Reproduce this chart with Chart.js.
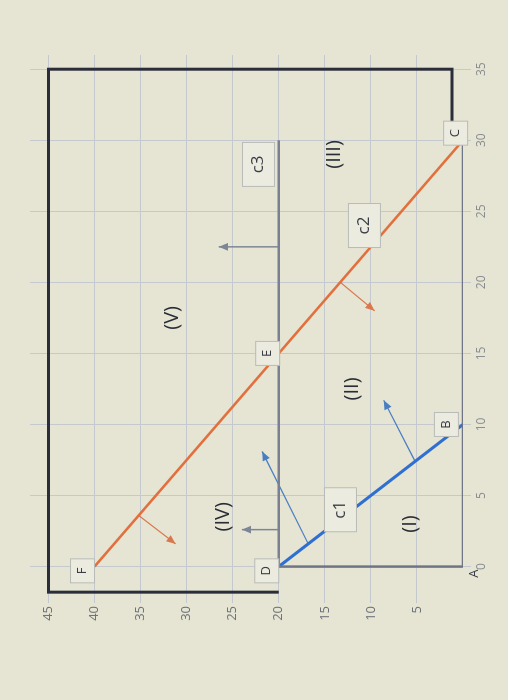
<!DOCTYPE html>
<html>
<head>
<meta charset="utf-8">
<script src="https://cdn.jsdelivr.net/npm/chart.js@4/dist/chart.umd.min.js"></script>
<style>
  html, body { margin: 0; padding: 0; background: #e6e5d3; overflow: hidden; }
  #page { width: 508px; height: 700px; position: relative; overflow: hidden; }
  #wrap {
    position: absolute; left: 0; top: 0; width: 700px; height: 508px;
    transform-origin: 0 0; transform: translate(0, 700px) rotate(-90deg);
  }
</style>
</head>
<body>
<div id="page"><div id="wrap"><canvas id="chart" width="700" height="508"></canvas></div></div>
<script>
// constraint lines (x, y)
const lineOrange = [{x: 0, y: 40}, {x: 30, y: 0}];
const lineBlue = [{x: 0, y: 20}, {x: 10, y: 0}];
const lineGray = [{x: 0, y: 20}, {x: 30, y: 20}];
const axesGray = [{x: 0, y: 20}, {x: 0, y: 0}, {x: 30.8, y: 0}];
const boxBlack = [{x: -1.8, y: 20}, {x: -1.8, y: 45}, {x: 35, y: 45}, {x: 35, y: 1.2}, {x: 31, y: 1.2}];

// direction arrows
const arrowsOrange = [
  [{x: 3.6, y: 35.2}, {x: 1.6, y: 31.2}],
  [{x: 20, y: 13.3}, {x: 18, y: 9.6}]
];
const arrowsBlue = [
  [{x: 1.6, y: 16.8}, {x: 8.1, y: 21.8}],
  [{x: 7.4, y: 5.2}, {x: 11.7, y: 8.6}]
];
const arrowsGray = [
  [{x: 2.6, y: 20}, {x: 2.6, y: 24}],
  [{x: 22.5, y: 20}, {x: 22.5, y: 26.5}]
];

// point labels (boxed) and region labels
const pointNames = ["A", "B", "C", "D", "E", "F", "c1", "c2", "c3"];
const pointX = [-0.5, 10, 30.5, -0.3, 15, -0.3, 4, 24, 28.3];
const pointY = [-1.2, 1.8, 0.8, 21.3, 21.2, 41.3, 13.3, 10.7, 22.2];
const regionNames = ["(I)", "(II)", "(III)", "(IV)", "(V)"];
const regionX = [3, 12.5, 29, 3.5, 17.5];
const regionY = [5.7, 12, 14, 26, 31.6];
const xTicks = [0, 5, 10, 15, 20, 25, 30, 35];
const yTicks = [5, 10, 15, 20, 25, 30, 35, 40, 45];

function lineSet(data, color, width, arrow) {
  return { data, showLine: true, borderColor: color, borderWidth: width,
           pointRadius: 0, fill: false, tension: 0, arrow };
}

const datasets = [
  lineSet(boxBlack, "#2a2d3a", 3, false),
  lineSet(axesGray, "#6f7585", 2.5, false),
  lineSet(lineGray, "#7a8092", 2.5, false),
  lineSet(lineOrange, "#e2703e", 2.5, false),
  lineSet(lineBlue, "#2f6fd2", 3, false)
];
arrowsOrange.forEach(a => datasets.push(lineSet(a, "#d9784e", 1.2, true)));
arrowsBlue.forEach(a => datasets.push(lineSet(a, "#4a7ec2", 1.2, true)));
arrowsGray.forEach(a => datasets.push(lineSet(a, "#7d8696", 1.5, true)));

const annotate = {
  id: "annotate",
  afterDatasetsDraw(chart) {
    const { ctx, scales: { x, y } } = chart;
    ctx.save();
    chart.data.datasets.forEach((ds, i) => {
      if (!ds.arrow) return;
      const pts = chart.getDatasetMeta(i).data;
      const a = pts[pts.length - 2], b = pts[pts.length - 1];
      const ang = Math.atan2(b.y - a.y, b.x - a.x);
      ctx.fillStyle = ds.borderColor;
      ctx.beginPath();
      ctx.moveTo(b.x, b.y);
      ctx.lineTo(b.x - 10 * Math.cos(ang - 0.4), b.y - 10 * Math.sin(ang - 0.4));
      ctx.lineTo(b.x - 10 * Math.cos(ang + 0.4), b.y - 10 * Math.sin(ang + 0.4));
      ctx.closePath();
      ctx.fill();
    });
    ctx.textAlign = "center";
    ctx.textBaseline = "middle";
    pointNames.forEach((name, i) => {
      const px = x.getPixelForValue(pointX[i]), py = y.getPixelForValue(pointY[i]);
      const big = name.length > 1;
      ctx.font = (big ? "17px" : "13px") + " 'Open Sans', sans-serif";
      const w = big ? 44 : 24, h = big ? 32 : 24;
      if (name !== "A") {
        ctx.fillStyle = "#ecebdf";
        ctx.fillRect(px - w / 2, py - h / 2, w, h);
        ctx.strokeStyle = "#b9bbb6";
        ctx.lineWidth = 1;
        ctx.strokeRect(px - w / 2, py - h / 2, w, h);
      }
      ctx.fillStyle = "#3a3d45";
      ctx.fillText(name, px, py);
    });
    ctx.font = "20px 'Open Sans', sans-serif";
    ctx.fillStyle = "#2a2d35";
    regionNames.forEach((name, i) => {
      ctx.fillText(name, x.getPixelForValue(regionX[i]), y.getPixelForValue(regionY[i]));
    });
    ctx.restore();
  }
};

new Chart(document.getElementById("chart"), {
  type: "scatter",
  data: { datasets },
  options: {
    responsive: false,
    animation: false,
    layout: { padding: { left: 0, right: 55, top: 30, bottom: 0 } },
    plugins: { legend: { display: false }, tooltip: { enabled: false } },
    scales: {
      x: {
        type: "linear", min: -2, max: 36,
        afterBuildTicks: s => { s.ticks = xTicks.map(v => ({ value: v })); },
        afterFit: s => { s.height = 45; },
        grid: { color: "#c3c9cf", lineWidth: 1 },
        border: { display: false },
        ticks: { color: "#8a8d90", font: { size: 12, family: "'Open Sans', sans-serif" } }
      },
      y: {
        type: "linear", min: 0, max: 47,
        afterBuildTicks: s => { s.ticks = yTicks.map(v => ({ value: v })); },
        afterFit: s => { s.width = 105; },
        grid: { color: "#c3c9cf", lineWidth: 1 },
        border: { display: false },
        ticks: { color: "#6f7278", font: { size: 13, family: "'Open Sans', sans-serif" } }
      }
    }
  },
  plugins: [annotate]
});
</script>
</body>
</html>
